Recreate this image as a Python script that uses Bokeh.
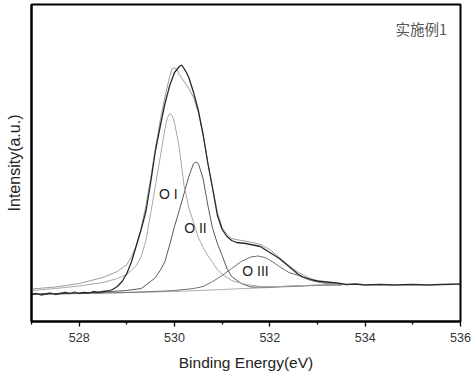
from bokeh.plotting import figure
from bokeh.models import FixedTicker, Range1d, Label
from bokeh.core.properties import value
from bokeh.embed import file_html
from bokeh.resources import INLINE

# ---- data (binding energy in eV, intensity in a.u.) ----
raw_ev = [527.0, 527.1, 527.2, 527.3, 527.4, 527.5, 527.6, 527.7, 527.8, 527.9,
          528.0, 528.1, 528.2, 528.3, 528.4, 528.5, 528.6, 528.7, 528.8, 528.9,
          529.0, 529.1, 529.2, 529.3, 529.4, 529.5, 529.6, 529.7, 529.8, 529.9,
          530.0, 530.05, 530.1, 530.15, 530.2, 530.25, 530.3, 530.4, 530.5, 530.6,
          530.7, 530.8, 530.9, 531.0, 531.1, 531.2, 531.3, 531.4, 531.5, 531.6,
          531.7, 531.8, 531.9, 532.0, 532.1, 532.2, 532.3, 532.4, 532.5, 532.6,
          532.7, 532.8, 532.9, 533.0, 533.2, 533.4, 533.6, 533.8, 534.0, 534.3,
          534.6, 535.0, 535.3, 535.6, 536.0]
raw_int = [27, 28, 26.5, 27.5, 28.5, 27, 28, 29, 28, 29.5,
           28, 29, 28.5, 30, 29, 30, 30.5, 32, 35, 40,
           48, 60, 76, 92, 110, 139, 171, 195, 218, 236,
           249, 252, 255, 256.5, 253, 249, 244, 229, 211, 187,
           158, 133, 106, 92, 85, 81, 79, 78.5, 78, 77,
           76, 75, 72, 69, 66, 63, 59, 55, 51, 47,
           44.5, 43, 41.5, 40.5, 39.5, 38.5, 37, 37.5, 36.5, 37,
           36.5, 37, 36.5, 37, 37.5]

fit_ev = [527.0, 527.5, 528.0, 528.5, 528.8, 529.0, 529.1, 529.2, 529.3, 529.4,
          529.5, 529.6, 529.7, 529.8, 529.9, 529.95, 530.0, 530.05, 530.1, 530.2,
          530.3, 530.4, 530.5, 530.6, 530.7, 530.8, 530.9, 531.0, 531.1, 531.2,
          531.4, 531.6, 531.8, 532.0, 532.2, 532.4, 532.6, 532.8, 533.0, 533.2, 533.5]
fit_int = [32.5, 34.5, 38, 44, 50, 57, 65, 76, 93, 116,
           143, 173, 201, 225, 245, 253, 253.5, 252, 247, 240,
           233, 224, 209, 187, 159, 133, 109, 94, 87, 83,
           81, 79.5, 77, 72, 64, 56, 49, 44, 40.5, 38.5, 36.5]

o1_ev = [527.0, 527.5, 528.0, 528.5, 528.8, 529.0, 529.2, 529.3, 529.4, 529.5,
         529.6, 529.7, 529.8, 529.85, 529.9, 529.95, 530.0, 530.1, 530.2, 530.3,
         530.4, 530.5, 530.6, 530.7, 530.8, 530.9, 531.0, 531.2, 531.5, 531.8,
         532.2, 533.0, 533.5]
o1_int = [31, 33, 35.5, 39, 43, 47, 56, 65, 81, 108,
          136, 164, 193, 204, 208, 206, 199, 174, 136, 114,
          99, 84, 74, 66, 59, 52, 47, 41, 37, 35,
          35, 36.5, 37]

o2_ev = [527.0, 528.0, 528.5, 529.0, 529.3, 529.5, 529.6, 529.7, 529.8, 529.9,
         530.0, 530.1, 530.2, 530.3, 530.4, 530.45, 530.5, 530.6, 530.7, 530.8,
         530.9, 531.0, 531.1, 531.2, 531.4, 531.6, 532.0, 533.0, 533.5]
o2_int = [27.5, 28.5, 29.5, 31, 33, 40, 44, 51, 60, 77,
          95, 111, 128, 145, 158, 159.5, 158, 143, 116, 93,
          78, 66, 53, 45, 38, 34.5, 34.5, 36.3, 36.8]

o3_ev = [527.0, 528.0, 529.0, 529.5, 530.0, 530.4, 530.6, 530.8, 531.0, 531.2,
         531.4, 531.6, 531.75, 531.9, 532.0, 532.2, 532.4, 532.6, 532.8, 533.0,
         533.2, 533.5]
o3_int = [27.2, 28, 29, 29.8, 31, 33, 35, 40, 46, 53,
          60, 64.5, 65.5, 64, 61.5, 55, 49, 46, 42, 39.5,
          38, 36.5]

bg_ev = [527.0, 528.0, 529.0, 529.5, 530.0, 530.5, 531.0, 531.5, 532.0, 532.5, 533.0, 533.5]
bg_int = [27, 28, 29, 29.5, 30, 31, 32, 33, 34, 35, 36, 36.5]

peak_names = ["O I", "O II", "O III"]
peak_label_ev = [529.87, 530.44, 531.70]
peak_label_int = [128, 94, 51]

major_ticks = [528, 530, 532, 534, 536]
minor_ticks = [527, 529, 531, 533, 535]

FONT = "Liberation Sans"

p = figure(width=474, height=376, output_backend="svg", toolbar_location=None,
           x_range=Range1d(527, 536), y_range=Range1d(0, 317),
           min_border_left=31, min_border_right=14, min_border_top=4,
           min_border_bottom=55)
p.background_fill_color = "white"
p.border_fill_color = "white"
p.outline_line_color = "black"
p.outline_line_width = 2
p.grid.visible = False

# curves
p.line(bg_ev, bg_int, line_color="#b0b0b0", line_width=1.0)
p.line(o3_ev, o3_int, line_color="#707070", line_width=1.0)
p.line(o2_ev, o2_int, line_color="#5a5a5a", line_width=1.0)
p.line(o1_ev, o1_int, line_color="#a8a8a8", line_width=1.0)
p.line(fit_ev, fit_int, line_color="#9c9c9c", line_width=1.0)
p.line(raw_ev, raw_int, line_color="#2a2a2a", line_width=1.3)

p.text(x=peak_label_ev, y=peak_label_int, text=peak_names,
       text_font=value(FONT), text_font_size="14px", text_color="#222222",
       text_align="center", text_baseline="middle")

p.add_layout(Label(x=535.72, y=293, text="实施例1", text_font="Noto Sans CJK SC",
                   text_font_size="14.5px", text_color="#555555",
                   text_align="right", text_baseline="middle"))

# x axis
xa = p.xaxis[0]
xa.ticker = FixedTicker(ticks=major_ticks, minor_ticks=minor_ticks)
xa.axis_label = "Binding Energy(eV)"
xa.axis_label_text_font = FONT
xa.axis_label_text_font_size = "15.5px"
xa.axis_label_text_font_style = "normal"
xa.axis_label_text_color = "#222222"
xa.axis_label_standoff = 9
xa.major_label_text_font = FONT
xa.major_label_text_font_size = "12.5px"
xa.major_label_text_color = "#333333"
xa.major_label_standoff = 6
xa.major_tick_in = 0
xa.major_tick_out = 5
xa.minor_tick_in = 0
xa.minor_tick_out = 3
xa.axis_line_width = 2
xa.major_tick_line_width = 1.3
xa.minor_tick_line_width = 1.3

# y axis: no ticks, no tick labels, only the title
ya = p.yaxis[0]
ya.ticker = FixedTicker(ticks=[], minor_ticks=[])
ya.axis_label = "Intensity(a.u.)"
ya.axis_label_text_font = FONT
ya.axis_label_text_font_size = "16px"
ya.axis_label_text_font_style = "normal"
ya.axis_label_text_color = "#222222"
ya.axis_label_standoff = 9
ya.major_tick_out = 0
ya.major_tick_in = 0
ya.minor_tick_out = 0
ya.minor_tick_in = 0
ya.axis_line_width = 2

open("out.html", "w").write(file_html(p, INLINE))
